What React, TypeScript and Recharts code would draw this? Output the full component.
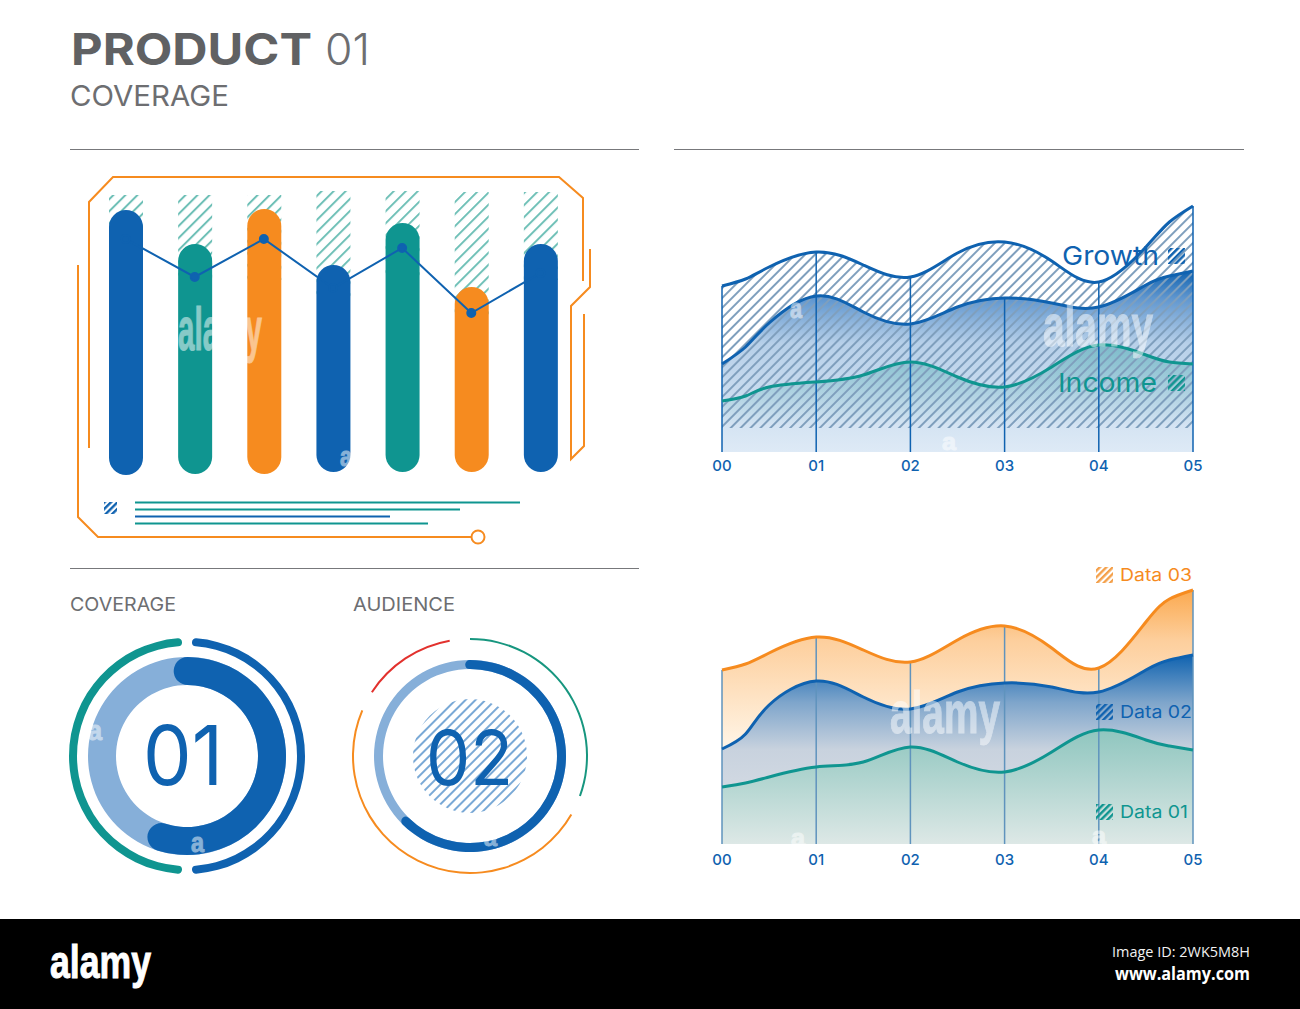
import React from 'react';
import { Area, Bar, Cell, ComposedChart, Line, Pie, PieChart, ReferenceLine, XAxis, YAxis } from 'recharts';

const BLUE = '#0f62b0';
const TEAL = '#0f9590';
const ORANGE = '#f68b1f';
const LIGHT_BLUE = '#86afd9';
const RED = '#e2312d';
const FONT = 'Inter, "Open Sans", sans-serif';

// bar panel (values are pixels above the panel floor)
const barNames = ['A', 'B', 'C', 'D', 'E', 'F', 'G'];
const barLows = [5, 6, 6, 8, 8, 8, 8];
const barHighs = [270, 236, 271, 215, 257, 193, 236];
const hatchHighs = [285, 285, 285, 289, 289, 288, 288];
const hatchLows = [200, 200, 200, 180, 200, 160, 200];
const lineValues = [241, 203, 241, 192, 232, 167, 207];
const barColors = [BLUE, TEAL, ORANGE, BLUE, TEAL, ORANGE, BLUE];

const barData = barNames.map((name, i) => ({
  name,
  bar: [barLows[i], barHighs[i]],
  hatch: [hatchLows[i], hatchHighs[i]],
  line: lineValues[i],
}));

// area panels
const steps = [0, 0.25, 0.5, 1, 1.5, 2, 2.5, 3, 3.5, 4, 4.5, 4.75, 5];
const wholeSteps = [0, 1, 2, 3, 4, 5];
const growth = [166, 173, 185, 200, 187, 175, 199, 210, 191, 170, 205, 230, 246];
const profit = [88, 105, 129, 156, 140, 128, 145, 154, 149, 145, 167, 176, 181];
const income = [51, 56, 65, 70, 77, 90, 75, 65, 85, 107, 97, 90, 88];
const topGuideTops = [166, 200, 175, 154, 170, 246];

const data03 = [174, 180, 191, 207, 194, 182, 204, 218, 196, 176, 222, 245, 254];
const data02 = [95, 110, 139, 163, 147, 135, 152, 161, 157, 152, 174, 184, 189];
const data01 = [57, 61, 67, 77, 82, 97, 82, 72, 92, 114, 104, 98, 94];
const bottomGuideTops = [174, 207, 182, 218, 176, 254];

const topData = steps.map((x, i) => ({ x, growth: growth[i], profit: profit[i], income: income[i] }));
const bottomData = steps.map((x, i) => ({ x, d3: data03[i], d2: data02[i], d1: data01[i] }));

// donuts
const coverageOuter = [{ name: 'right', value: 50 }, { name: 'left', value: 50 }];
const coverageOuterColors = [BLUE, TEAL];
const coverageInner = [{ name: 'done', value: 60 }, { name: 'rest', value: 40 }];
const audienceOuter = [{ name: 'a', value: 110 }, { name: 'b', value: 173 }, { name: 'c', value: 47 }];
const audienceOuterColors = ['#17967f', ORANGE, RED];
const audienceInner = [{ name: 'done', value: 64 }, { name: 'rest', value: 36 }];
const fullRing = [{ name: 'all', value: 100 }];

// stock-site marks laid over the picture: x, baseline, width, size, text
const watermarks: [number, number, number, number, string][] = [
  [178, 350, 84, 62, 'alamy'],
  [1043, 346, 110, 60, 'alamy'],
  [890, 733, 110, 60, 'alamy'],
  [340, 466, 12, 28, 'a'],
  [790, 318, 12, 28, 'a'],
  [942, 450, 14, 24, 'a'],
  [191, 852, 13, 28, 'a'],
  [484, 846, 13, 24, 'a'],
  [791, 846, 14, 24, 'a'],
  [1092, 844, 14, 24, 'a'],
  [88, 740, 14, 28, 'a'],
];

const tickLabel = (v: number) => '0' + v;

function Hatch({ id, color, width = 2, gap = 7 }: { id: string; color: string; width?: number; gap?: number }) {
  return (
    <pattern id={id} width={gap} height={gap} patternUnits="userSpaceOnUse" patternTransform="rotate(45)">
      <rect x={0} y={0} width={width} height={gap} fill={color} />
    </pattern>
  );
}

function Defs() {
  return (
    <svg width={0} height={0} style={{ position: 'absolute' }}>
      <defs>
        <Hatch id="hatchTeal" color="#6fc0b7" width={2} gap={8.5} />
        <Hatch id="hatchArea" color="#7f9fbd" width={2} gap={7} />
        <Hatch id="hatchCircle" color="#7aa9d6" width={2} gap={7} />
        <Hatch id="keyBlue" color={BLUE} width={2.4} gap={4.6} />
        <Hatch id="keyTeal" color={TEAL} width={2.4} gap={4.6} />
        <Hatch id="keyOrange" color="#f4a04a" width={2.4} gap={4.6} />
        <linearGradient id="gradProfit" x1="0" y1="0" x2="0" y2="1">
          <stop offset="0" stopColor="#0f62b0" />
          <stop offset="0.15" stopColor="#5f96cf" />
          <stop offset="0.4" stopColor="#b7d0e9" />
          <stop offset="1" stopColor="#deeaf6" />
        </linearGradient>
        <linearGradient id="gradIncome" x1="0" y1="0" x2="0" y2="1">
          <stop offset="0" stopColor="#0f9590" stopOpacity={0.35} />
          <stop offset="0.75" stopColor="#0f9590" stopOpacity={0} />
        </linearGradient>
        <linearGradient id="grad03" x1="0" y1="0" x2="0" y2="1">
          <stop offset="0" stopColor="#fba94f" />
          <stop offset="0.2" stopColor="#fdcf9d" />
          <stop offset="0.6" stopColor="#fff3e3" />
          <stop offset="1" stopColor="#ffffff" />
        </linearGradient>
        <linearGradient id="grad02" x1="0" y1="0" x2="0" y2="1">
          <stop offset="0" stopColor="#1063b0" />
          <stop offset="0.25" stopColor="#7ea5cb" />
          <stop offset="0.5" stopColor="#c8d2de" />
          <stop offset="1" stopColor="#dfe3e8" />
        </linearGradient>
        <linearGradient id="grad01" x1="0" y1="0" x2="0" y2="1">
          <stop offset="0" stopColor="#8fc6bf" />
          <stop offset="1" stopColor="#dde8e6" />
        </linearGradient>
      </defs>
    </svg>
  );
}

function Txt({ x, y, w, size, color, weight = 400, children, family = FONT, ...rest }: any) {
  return (
    <text x={x} y={y} fontSize={size} fill={color} fontWeight={weight} fontFamily={family} textLength={w} lengthAdjust="spacingAndGlyphs" {...rest}>
      {children}
    </text>
  );
}

// frame, rules, titles and series names
function Overlay() {
  const orange = { fill: 'none', stroke: ORANGE, strokeWidth: 2 };
  const logoFont = '"Liberation Sans", sans-serif';
  return (
    <svg width={1300} height={1009} style={{ position: 'absolute', left: 0, top: 0, pointerEvents: 'none' }}>
      <Txt x={71} y={65} w={241} size={44} color="#606163" weight={700}>PRODUCT</Txt>
      <Txt x={325} y={65} w={45} size={44} color="#6d6e71" weight={300}>01</Txt>
      <Txt x={70} y={106} w={159} size={28} color="#6d6e71">COVERAGE</Txt>

      <g stroke="#77787b" strokeWidth={1}>
        <line x1={70} x2={639} y1={149.5} y2={149.5} />
        <line x1={674} x2={1244} y1={149.5} y2={149.5} />
        <line x1={70} x2={639} y1={568.5} y2={568.5} />
      </g>

      <polyline {...orange} points="89,448 89,202 113,177 559,177 583,198 583,281" />
      <polyline {...orange} points="590,249 590,287 571,306 571,459 584,446 584,314" />
      <polyline {...orange} points="78,265 78,517 98,537 472,537" />
      <circle cx={478} cy={537} r={6.5} fill="#fff" stroke={ORANGE} strokeWidth={2} />

      <rect x={104} y={502} width={13} height={12} fill="url(#keyBlue)" />
      <line x1={135} x2={520} y1={502.5} y2={502.5} stroke={TEAL} strokeWidth={2} />
      <line x1={135} x2={460} y1={509.5} y2={509.5} stroke={TEAL} strokeWidth={2} />
      <line x1={135} x2={390} y1={516.5} y2={516.5} stroke={BLUE} strokeWidth={2} />
      <line x1={135} x2={428} y1={523.5} y2={523.5} stroke={TEAL} strokeWidth={2} />

      <Txt x={70} y={611} w={106} size={19} color="#6d6e71">COVERAGE</Txt>
      <Txt x={353} y={611} w={102} size={19} color="#6d6e71">AUDIENCE</Txt>

      <Txt x={143} y={785} w={80} size={82} color={BLUE}>01</Txt>
      <Txt x={426} y={785} w={87} size={76} color={BLUE}>02</Txt>

      <Txt x={1062} y={265} w={97} size={26} color={BLUE}>Growth</Txt>
      <rect x={1168} y={248} width={17} height={16} fill="url(#keyBlue)" />
      <Txt x={1058} y={392} w={99} size={26} color={TEAL}>Income</Txt>
      <rect x={1168} y={375} width={17} height={16} fill="url(#keyTeal)" />

      <Txt x={1120} y={581} w={72} size={17} color={ORANGE}>Data 03</Txt>
      <rect x={1096} y={567} width={17} height={16} fill="url(#keyOrange)" />
      <Txt x={1120} y={718} w={72} size={17} color={BLUE}>Data 02</Txt>
      <rect x={1096} y={704} width={17} height={16} fill="url(#keyBlue)" />
      <Txt x={1120} y={818} w={68} size={17} color={TEAL}>Data 01</Txt>
      <rect x={1096} y={804} width={17} height={16} fill="url(#keyTeal)" />

      <g opacity={0.5}>
        {watermarks.map(([x, y, w, size, label]) => (
          <Txt key={`${x}-${y}`} x={x} y={y} w={w} size={size} color="#fff" weight={700} family={logoFont} stroke="#fff" strokeWidth={1}>{label}</Txt>
        ))}
      </g>

      <rect x={0} y={919} width={1300} height={90} fill="#000" />
      <Txt x={50} y={978} w={101} size={46} color="#fff" weight={700} family={logoFont} stroke="#fff" strokeWidth={1}>alamy</Txt>
      <Txt x={1112} y={957} w={138} size={15} color="#f2f2f2" family='"Open Sans", sans-serif'>Image ID: 2WK5M8H</Txt>
      <Txt x={1115} y={980} w={135} size={17} color="#fff" weight={700} family='"Open Sans", sans-serif'>www.alamy.com</Txt>
    </svg>
  );
}

function BarPanel() {
  return (
    <div style={{ position: 'absolute', left: 91.4, top: 180 }}>
      <ComposedChart width={484} height={300} data={barData} margin={{ top: 0, right: 0, bottom: 0, left: 0 }} barSize={34} barGap={-34}>
        <XAxis dataKey="name" hide />
        <YAxis hide domain={[0, 300]} />
        <Bar dataKey="hatch" fill="url(#hatchTeal)" isAnimationActive={false} />
        <Bar dataKey="bar" radius={17} isAnimationActive={false}>
          {barNames.map((name, i) => <Cell key={name} fill={barColors[i]} />)}
        </Bar>
        <Line dataKey="line" stroke={BLUE} strokeWidth={2} dot={{ r: 4, fill: BLUE, stroke: BLUE }} isAnimationActive={false} />
      </ComposedChart>
    </div>
  );
}

function AreaPanel({ left, top, height, children, data, tickDy }: any) {
  return (
    <div style={{ position: 'absolute', left, top }}>
      <ComposedChart width={520} height={height + 30} data={data} margin={{ top: 0, right: 27, bottom: 0, left: 22 }}>
        <XAxis
          dataKey="x"
          type="number"
          domain={[0, 5]}
          ticks={wholeSteps}
          tickFormatter={tickLabel}
          height={30}
          axisLine={false}
          tickLine={false}
          interval={0}
          dy={tickDy}
          tick={{ fontSize: 15, fontWeight: 500, fill: BLUE, fontFamily: FONT }}
        />
        <YAxis hide domain={[0, height]} />
        {children}
      </ComposedChart>
    </div>
  );
}

function TopAreas() {
  return (
    <AreaPanel left={700} top={190} height={262} data={topData} tickDy={0}>
      <Area dataKey="profit" type="natural" fill="url(#gradProfit)" fillOpacity={1} stroke="none" isAnimationActive={false} />
      <Area dataKey="income" type="natural" fill="url(#gradIncome)" fillOpacity={1} stroke="none" isAnimationActive={false} />
      <Area dataKey="growth" type="natural" baseValue={24} fill="url(#hatchArea)" fillOpacity={1} stroke="none" isAnimationActive={false} />
      {wholeSteps.map((s, i) => (
        <ReferenceLine key={s} segment={[{ x: s, y: 0 }, { x: s, y: topGuideTops[i] }]} stroke={BLUE} strokeWidth={1.5} />
      ))}
      <Line dataKey="growth" type="natural" stroke={BLUE} strokeWidth={3} dot={false} isAnimationActive={false} />
      <Line dataKey="profit" type="natural" stroke={BLUE} strokeWidth={3} dot={false} isAnimationActive={false} />
      <Line dataKey="income" type="natural" stroke={TEAL} strokeWidth={3} dot={false} isAnimationActive={false} />
    </AreaPanel>
  );
}

function BottomAreas() {
  return (
    <AreaPanel left={700} top={582} height={262} data={bottomData} tickDy={2}>
      <Area dataKey="d3" type="natural" fill="url(#grad03)" fillOpacity={1} stroke="none" isAnimationActive={false} />
      <Area dataKey="d2" type="natural" fill="url(#grad02)" fillOpacity={1} stroke="none" isAnimationActive={false} />
      <Area dataKey="d1" type="natural" fill="url(#grad01)" fillOpacity={1} stroke="none" isAnimationActive={false} />
      {wholeSteps.map((s, i) => (
        <ReferenceLine key={s} segment={[{ x: s, y: 0 }, { x: s, y: bottomGuideTops[i] }]} stroke="#5f93bd" strokeWidth={1.5} />
      ))}
      <Line dataKey="d3" type="natural" stroke={ORANGE} strokeWidth={3} dot={false} isAnimationActive={false} />
      <Line dataKey="d2" type="natural" stroke={BLUE} strokeWidth={3} dot={false} isAnimationActive={false} />
      <Line dataKey="d1" type="natural" stroke={TEAL} strokeWidth={3} dot={false} isAnimationActive={false} />
    </AreaPanel>
  );
}

function CoverageDonut() {
  return (
    <div style={{ position: 'absolute', left: 62, top: 631 }}>
      <PieChart width={250} height={250} margin={{ top: 0, right: 0, bottom: 0, left: 0 }}>
        <Pie data={coverageOuter} dataKey="value" cx={125} cy={125} outerRadius={118} innerRadius={110} startAngle={87.5} endAngle={-272.5} paddingAngle={5} cornerRadius={4} stroke="none" isAnimationActive={false}>
          {coverageOuter.map((d, i) => <Cell key={d.name} fill={coverageOuterColors[i]} />)}
        </Pie>
        <Pie data={fullRing} dataKey="value" cx={125} cy={125} outerRadius={99} innerRadius={71} startAngle={90} endAngle={-270} fill={LIGHT_BLUE} stroke="none" isAnimationActive={false} />
        <Pie data={coverageInner} dataKey="value" cx={125} cy={125} outerRadius={99} innerRadius={71} startAngle={99} endAngle={-261} cornerRadius={14} stroke="none" isAnimationActive={false}>
          <Cell fill={BLUE} />
          <Cell fill="none" />
        </Pie>
      </PieChart>
    </div>
  );
}

function AudienceDonut() {
  return (
    <div style={{ position: 'absolute', left: 345, top: 631 }}>
      <PieChart width={250} height={250} margin={{ top: 0, right: 0, bottom: 0, left: 0 }}>
        <Pie data={fullRing} dataKey="value" cx={125} cy={125} outerRadius={57} innerRadius={0} fill="url(#hatchCircle)" stroke="none" isAnimationActive={false} />
        <Pie data={audienceOuter} dataKey="value" cx={125} cy={125} outerRadius={118} innerRadius={116} startAngle={90} endAngle={-270} paddingAngle={10} stroke="none" isAnimationActive={false}>
          {audienceOuter.map((d, i) => <Cell key={d.name} fill={audienceOuterColors[i]} />)}
        </Pie>
        <Pie data={fullRing} dataKey="value" cx={125} cy={125} outerRadius={96} innerRadius={87} startAngle={90} endAngle={-270} fill={LIGHT_BLUE} stroke="none" isAnimationActive={false} />
        <Pie data={audienceInner} dataKey="value" cx={125} cy={125} outerRadius={96} innerRadius={87} startAngle={93} endAngle={-267} cornerRadius={4.5} stroke="none" isAnimationActive={false}>
          <Cell fill={BLUE} />
          <Cell fill="none" />
        </Pie>
      </PieChart>
    </div>
  );
}

export default function App() {
  return (
    <div style={{ position: 'absolute', left: 0, top: 0, width: 1300, height: 1009, background: '#fff', overflow: 'hidden' }}>
      <Defs />
      <BarPanel />
      <TopAreas />
      <BottomAreas />
      <CoverageDonut />
      <AudienceDonut />
      <Overlay />
    </div>
  );
}
